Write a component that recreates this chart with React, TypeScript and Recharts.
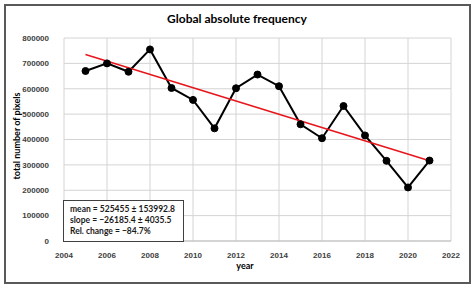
import React from 'react'
import { LineChart, Line, XAxis, YAxis, CartesianGrid } from 'recharts'

const years = [2005, 2006, 2007, 2008, 2009, 2010, 2011, 2012, 2013, 2014, 2015, 2016, 2017, 2018, 2019, 2020, 2021]
const pixels = [670000, 700000, 667000, 755000, 603000, 556000, 444000, 602000, 656000, 610000, 460000, 405000, 532000, 416000, 316000, 211000, 317000]

// linear fit endpoints (mean 525455, slope -26185.4 per year, centred on 2013)
const trendYears = [2005, 2021]
const trendValues = [734938, 315972]

const xTicks = [2004, 2006, 2008, 2010, 2012, 2014, 2016, 2018, 2020, 2022]
const yTicks = [0, 100000, 200000, 300000, 400000, 500000, 600000, 700000, 800000]

const statsLines = ['mean = 525455 ± 153992.8', 'slope = \u221226185.4 ± 4035.5', 'Rel. change = \u221284.7%']

const series = years.map((year, i) => ({ year, pixels: pixels[i] }))
const trend = trendYears.map((year, i) => ({ year, trend: trendValues[i] }))

const font = 'Lato, "Liberation Sans", sans-serif'
const tickStyle = { fontSize: 8, fontWeight: 700, fill: '#404040', fontFamily: '"Liberation Sans", Arial, sans-serif' }

export default function App() {
  return (
    <div style={{ position: 'absolute', left: 0, top: 0, width: 474, height: 288, background: '#fff', fontFamily: font }}>
      <div style={{ position: 'absolute', left: 4, top: 4, width: 463, height: 276, border: '2px solid #595959' }} />
      <div style={{ position: 'absolute', left: 0, top: 11, width: 474, textAlign: 'center', fontSize: 12, fontWeight: 700, color: '#000' }}>
        Global absolute frequency
      </div>
      <LineChart width={474} height={288} data={series} margin={{ top: 38, right: 23, bottom: 27, left: 0 }} style={{ position: 'absolute', left: 0, top: 0 }}>
        <CartesianGrid stroke="#d4d4d4" />
        <XAxis
          dataKey="year"
          type="number"
          domain={[2004, 2022]}
          ticks={xTicks}
          interval={0}
          height={20}
          tick={tickStyle}
          tickLine={false}
          axisLine={{ stroke: '#bfbfbf' }}
          tickMargin={5}
        />
        <YAxis
          type="number"
          domain={[0, 800000]}
          ticks={yTicks}
          interval={0}
          width={64}
          tick={tickStyle}
          tickLine={false}
          axisLine={false}
          tickMargin={9}
        />
        <Line
          dataKey="pixels"
          stroke="#000"
          strokeWidth={2}
          dot={{ r: 3.5, fill: '#000', stroke: '#000', strokeWidth: 1 }}
          isAnimationActive={false}
        />
        <Line
          data={trend}
          dataKey="trend"
          stroke="#e8141b"
          strokeWidth={1.5}
          dot={false}
          isAnimationActive={false}
        />
      </LineChart>
      <div style={{ position: 'absolute', left: 0, top: 260, width: 490, textAlign: 'center', fontSize: 9, fontWeight: 700, lineHeight: '11px', color: '#000' }}>
        year
      </div>
      <div style={{ position: 'absolute', left: 16, top: 136, width: 0, height: 0 }}>
        <div
          style={{
            position: 'absolute',
            left: 0,
            top: 0,
            transform: 'translate(-50%, -50%) rotate(-90deg)',
            whiteSpace: 'nowrap',
            fontSize: 9,
            lineHeight: '9px',
            fontWeight: 700,
            color: '#000'
          }}
        >
          total number of pixels
        </div>
      </div>
      <div
        style={{
          position: 'absolute',
          left: 63,
          top: 200,
          width: 121,
          height: 42,
          border: '1px solid #404040',
          background: '#fff',
          padding: '3px 0 0 6px',
          boxSizing: 'border-box',
          fontSize: 8.5,
          fontWeight: 700,
          lineHeight: '11px',
          color: '#1a1a1a',
          whiteSpace: 'nowrap'
        }}
      >
        {statsLines.map((s) => (
          <div key={s}>{s}</div>
        ))}
      </div>
    </div>
  )
}
